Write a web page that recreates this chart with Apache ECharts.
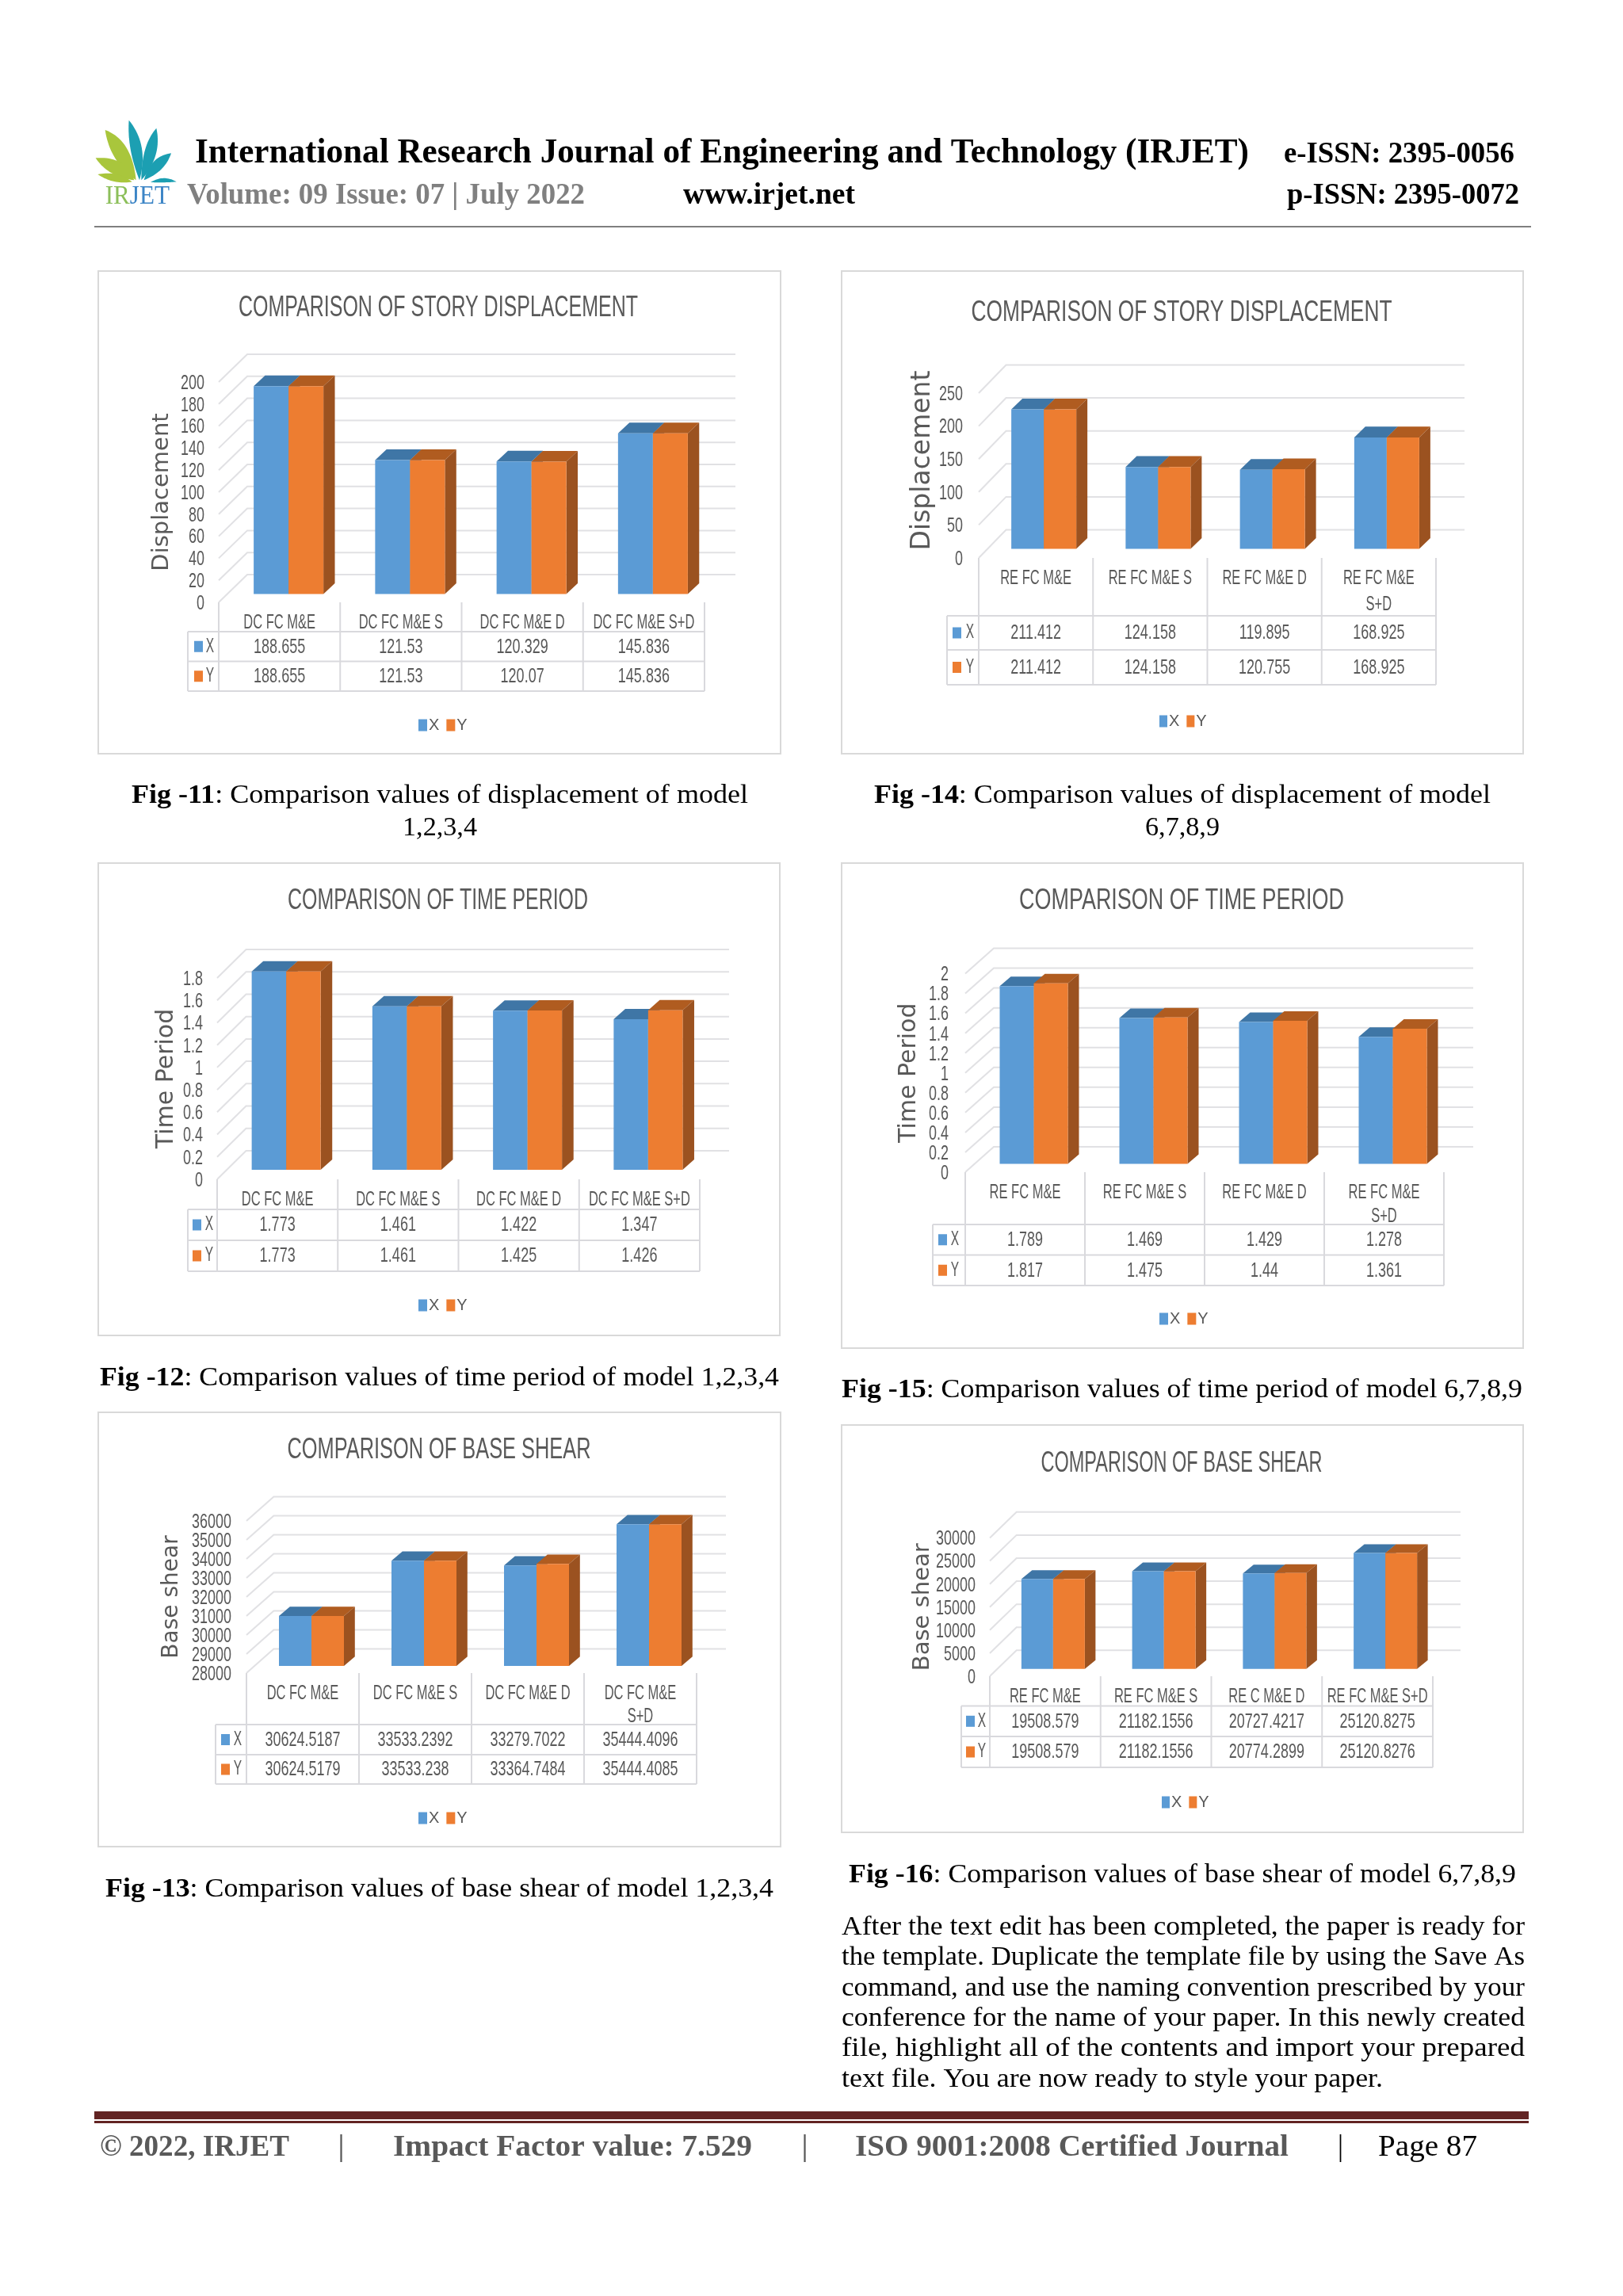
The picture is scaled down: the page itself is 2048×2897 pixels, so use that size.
<!DOCTYPE html>
<html>
<head>
<meta charset="utf-8">
<style>html,body{margin:0;padding:0;background:#fff}#c{width:2048px;height:2897px}</style>
<script src="https://cdn.jsdelivr.net/npm/echarts@6/dist/echarts.min.js"></script>
</head>
<body>
<div id="c"></div>
<script>
// ---- data ----
var catDC = ['DC FC M&E', 'DC FC M&E S', 'DC FC M&E D', 'DC FC M&E S+D'];
var catDCwrap = ['DC FC M&E', 'DC FC M&E S', 'DC FC M&E D', 'DC FC M&E\nS+D'];
var catREwrap = ['RE FC M&E', 'RE FC M&E S', 'RE FC M&E D', 'RE FC M&E\nS+D'];
var catRE16 = ['RE FC M&E', 'RE FC M&E S', 'RE C M&E D', 'RE FC M&E S+D'];

var disp11X = [188.655, 121.53, 120.329, 145.836];
var disp11Y = [188.655, 121.53, 120.07, 145.836];
var disp11Ticks = [0, 20, 40, 60, 80, 100, 120, 140, 160, 180, 200];

var disp14X = [211.412, 124.158, 119.895, 168.925];
var disp14Y = [211.412, 124.158, 120.755, 168.925];
var disp14Ticks = [0, 50, 100, 150, 200, 250];

var time12X = [1.773, 1.461, 1.422, 1.347];
var time12Y = [1.773, 1.461, 1.425, 1.426];
var time12Ticks = [0, 0.2, 0.4, 0.6, 0.8, 1, 1.2, 1.4, 1.6, 1.8];

var time15X = [1.789, 1.469, 1.429, 1.278];
var time15Y = [1.817, 1.475, 1.44, 1.361];
var time15Ticks = [0, 0.2, 0.4, 0.6, 0.8, 1, 1.2, 1.4, 1.6, 1.8, 2];

var shear13X = [30624.5187, 33533.2392, 33279.7022, 35444.4096];
var shear13Y = [30624.5179, 33533.238, 33364.7484, 35444.4085];
var shear13Ticks = [28000, 29000, 30000, 31000, 32000, 33000, 34000, 35000, 36000];

var shear16X = [19508.579, 21182.1556, 20727.4217, 25120.8275];
var shear16Y = [19508.579, 21182.1556, 20774.2899, 25120.8276];
var shear16Ticks = [0, 5000, 10000, 15000, 20000, 25000, 30000];

// ---- layout ----
var SANS = "'Liberation Sans',sans-serif";
var SERIF = "'Liberation Serif',serif";
var BLUE = '#5B9BD5', ORANGE = '#ED7D31', INK = '#595959';
var panels = [
 {title:'COMPARISON OF STORY DISPLACEMENT', name:'Displacement', cats:catDC, x:disp11X, y:disp11Y, ticks:disp11Ticks,
  box:[124,342,985,951], L:276,R:889,y0:760,yt:482,dx:36,dy:35,fx:11.5,fy:10.5,bw:44,ddx:14.4,ddy:13.6,back:928,
  tL:237,rows:[797,834.5,872],sw:[245,265],leg:[528,913,11],tc:[553,389],tw:252,nameSize:29,nameGap:57,lm:18,lh:31,nameShift:0},
 {title:'COMPARISON OF STORY DISPLACEMENT', name:'Displacement', cats:catREwrap, x:disp14X, y:disp14Y, ticks:disp14Ticks,
  box:[1062,342,1922,951], L:1235,R:1812,y0:704,yt:496,dx:34.5,dy:35.5,fx:10,fy:11.5,bw:41,ddx:14,ddy:13.6,back:1848,
  tL:1195,rows:[777,820,864],sw:[1202,1224],leg:[1463,908,10],tc:[1491,395],tw:265.5,nameSize:33,nameGap:54,lm:20,lh:33,nameShift:38},
 {title:'COMPARISON OF TIME PERIOD', name:'Time Period', cats:catDC, x:time12X, y:time12Y, ticks:time12Ticks,
  box:[124,1089,984,1685], L:274,R:883,y0:1488,yt:1234,dx:36.5,dy:36,fx:11,fy:12,bw:43.5,ddx:14.6,ddy:13,back:920,
  tL:237,rows:[1526,1565,1604],sw:[243,264],leg:[528,1645,11],tc:[552.5,1137],tw:189.5,nameSize:30,nameGap:49,lm:18,lh:31,nameShift:0},
 {title:'COMPARISON OF TIME PERIOD', name:'Time Period', cats:catREwrap, x:time15X, y:time15Y, ticks:time15Ticks,
  box:[1062,1089,1922,1701], L:1218,R:1822,y0:1479,yt:1228.5,dx:36,dy:32,fx:11,fy:10.6,bw:43,ddx:14,ddy:12,back:1859,
  tL:1177,rows:[1545,1583.5,1622],sw:[1184,1205],leg:[1463,1662,11],tc:[1491,1137],tw:205,nameSize:30,nameGap:56,lm:21,lh:30,nameShift:0},
 {title:'COMPARISON OF BASE SHEAR', name:'Base shear', cats:catDCwrap, x:shear13X, y:shear13Y, ticks:shear13Ticks,
  box:[124,1782,985,2330], L:311,R:879,y0:2111,yt:1919,dx:34.4,dy:30.6,fx:11,fy:9,bw:41,ddx:13.8,ddy:11.8,back:916,
  tL:272,rows:[2176,2214,2251],sw:[279,300],leg:[528,2292,11],tc:[554,1830],tw:191.5,nameSize:28,nameGap:80,lm:19,lh:29,nameShift:0},
 {title:'COMPARISON OF BASE SHEAR', name:'Base shear', cats:catRE16, x:shear16X, y:shear16Y, ticks:shear16Ticks,
  box:[1062,1798,1922,2312], L:1249,R:1808,y0:2115,yt:1940.5,dx:33.7,dy:32.7,fx:10,fy:9.3,bw:40,ddx:13.5,ddy:11,back:1843,
  tL:1213,rows:[2152.6,2191,2230],sw:[1219,1239],leg:[1466,2272,10],tc:[1491,1847],tw:177.5,nameSize:29,nameGap:70,lm:18,lh:30,nameShift:0}
];

// ---- helpers ----
var mctx = document.createElement('canvas').getContext('2d');
function measure(t, size, fam, bold) {
  mctx.font = (bold ? 'bold ' : '') + size + 'px ' + fam;
  return mctx.measureText(t).width;
}
// a line of text stretched to span x1..x2; parts = [[text,bold,colour],...]
function textLine(parts, x1, x2, y, size, fam) {
  var w = 0, rich = {}, s = '';
  parts.forEach(function (p, i) {
    w += measure(p[0], size, fam, p[1]);
    rich['p' + i] = {fontFamily: fam, fontSize: size, fontWeight: p[1] ? 'bold' : 'normal', fill: p[2] || '#000', color: p[2] || '#000'};
    s += '{p' + i + '|' + p[0] + '}';
  });
  return {type: 'text', x: x1, y: y, scaleX: (x2 - x1) / w, z: 5, silent: true,
    style: parts.length > 1
      ? {text: s, rich: rich, align: 'left', verticalAlign: 'middle'}
      : {text: parts[0][0], fontFamily: fam, fontSize: size, fontWeight: parts[0][1] ? 'bold' : 'normal', fill: parts[0][2] || '#000', align: 'left', verticalAlign: 'middle'}};
}
function leaf(tip, base, c1, c2, color) {
  var k = 1 / 3, pts = [], t;
  function q(a, c, b, t) { return (1 - t) * (1 - t) * a + 2 * (1 - t) * t * c + t * t * b; }
  for (t = 0; t <= 1.001; t += 0.05) pts.push([q(base[0], c1[0], tip[0], t), q(base[1], c1[1], tip[1], t)]);
  for (t = 0; t <= 1.001; t += 0.05) pts.push([q(tip[0], c2[0], base[0], t), q(tip[1], c2[1], base[1], t)]);
  pts = pts.map(function (p) { return [110 + p[0] * k, 140 + p[1] * k]; });
  return {type: 'polygon', silent: true, shape: {points: pts}, style: {fill: color}};
}
// condensed label used for tick labels, table cells and category names
function narrowText(t, x, y, align, scale, lh) {
  var st = {text: t, x: 0, y: 0, align: align, verticalAlign: lh ? 'top' : 'middle', fontFamily: SANS, fontSize: 25, fill: INK};
  if (lh) st.lineHeight = lh;
  return {type: 'text', x: x, y: y, scaleX: scale, style: st};
}

// ---- renderers ----
function wallRenderer(p) {
  return function (params, api) {
    var v = api.value(1), y = api.coord([0, v])[1], l = params.coordSys.x;
    return {type: 'group', silent: true, children: [
      {type: 'polyline', shape: {points: [[l, y], [l + p.dx, y - p.dy], [p.back, y - p.dy]]},
       style: {stroke: '#E1E1E4', lineWidth: 2, fill: null}},
      narrowText(String(v), l - p.lm, y + 2, 'right', 0.72)
    ]};
  };
}
function barRenderer(p, side, front, topC, sideC) {
  return function (params, api) {
    var i = api.value(0), v = api.value(1), mn = p.ticks[0];
    var cx = api.coord([i, v])[0] + p.fx, yTop = api.coord([i, v])[1] - p.fy, yBase = api.coord([i, mn])[1] - p.fy;
    var x1 = side < 0 ? cx - p.bw : cx, x2 = x1 + p.bw;
    return {type: 'group', silent: true, children: [
      {type: 'polygon', shape: {points: [[x1, yTop], [x1 + p.ddx, yTop - p.ddy], [x2 + p.ddx, yTop - p.ddy], [x2, yTop]]}, style: {fill: topC}},
      {type: 'polygon', shape: {points: [[x2, yTop], [x2 + p.ddx, yTop - p.ddy], [x2 + p.ddx, yBase - p.ddy], [x2, yBase]]}, style: {fill: sideC}},
      {type: 'rect', shape: {x: x1, y: yTop, width: p.bw, height: yBase - yTop}, style: {fill: front}}
    ]};
  };
}
function tableRenderer(p) {
  var lineC = '#D9D9DD';
  function ln(a, b, c, d) { return {type: 'line', shape: {x1: a, y1: b, x2: c, y2: d}, style: {stroke: lineC, lineWidth: 2}}; }
  return function (params, api) {
    var i = params.dataIndex, cx = api.coord([i, p.ticks[0]])[0], w = api.size([1, 0])[0];
    var r = p.rows, ch = [
      ln(cx + w / 2, p.y0, cx + w / 2, r[2]),
      narrowText(p.cats[i], cx, p.y0 + 26 - p.lh / 2, 'center', 0.66, p.lh),
      narrowText(String(api.value(1)), cx, (r[0] + r[1]) / 2 + 1, 'center', 0.72),
      narrowText(String(api.value(2)), cx, (r[1] + r[2]) / 2 + 1, 'center', 0.72)
    ];
    if (i === 0) {
      ch.push(ln(p.L, p.y0, p.L, r[2]));
      ch.push(ln(p.tL, r[0], p.R, r[0]), ln(p.tL, r[1], p.R, r[1]), ln(p.tL, r[2], p.R, r[2]), ln(p.tL, r[0], p.tL, r[2]));
      var c = [(r[0] + r[1]) / 2, (r[1] + r[2]) / 2];
      ch.push({type: 'rect', shape: {x: p.sw[0], y: c[0] - 7, width: 11, height: 14}, style: {fill: BLUE}});
      ch.push({type: 'rect', shape: {x: p.sw[0], y: c[1] - 7, width: 11, height: 14}, style: {fill: ORANGE}});
      ch.push(narrowText('X', p.sw[1], c[0], 'center', 0.62), narrowText('Y', p.sw[1], c[1], 'center', 0.62));
    }
    return {type: 'group', silent: true, children: ch};
  };
}

// ---- options ----
var option = {animation: false, backgroundColor: '#fff', legend: [], grid: [], xAxis: [], yAxis: [], series: [], graphic: []};
var G = option.graphic;

panels.forEach(function (p, k) {
  option.grid.push({left: p.L, top: p.yt, width: p.R - p.L, height: p.y0 - p.yt, containLabel: false});
  option.xAxis.push({type: 'category', gridIndex: k, data: p.cats, axisLine: {show: false}, axisTick: {show: false},
    axisLabel: {show: false}, splitLine: {show: false}});
  var t = p.ticks;
  option.yAxis.push({type: 'value', gridIndex: k, min: t[0], max: t[t.length - 1], interval: t[1] - t[0],
    axisLine: {show: false}, axisTick: {show: false}, splitLine: {show: false}, axisLabel: {show: false},
    name: p.name, nameLocation: 'middle', nameGap: p.nameGap,
    nameTextStyle: {fontFamily: "'DejaVu Sans',sans-serif", fontSize: p.nameSize, color: INK, padding: [0, 0, 0, p.nameShift]}});
  option.legend.push({data: ['X', 'Y'], left: p.leg[0], top: p.leg[1] - 8, orient: 'horizontal', padding: 0, selectedMode: false,
    icon: 'rect', itemWidth: p.leg[2], itemHeight: 15, itemGap: 9,
    textStyle: {fontFamily: SANS, fontSize: 20, color: INK, padding: [0, 0, 0, -3]}});
  option.series.push({name: 'gridlines', type: 'custom', xAxisIndex: k, yAxisIndex: k, z: 1, silent: true,
    data: t.map(function (v) { return [0, v]; }), encode: {x: 0, y: 1}, renderItem: wallRenderer(p)});
  option.series.push({name: 'X', type: 'custom', xAxisIndex: k, yAxisIndex: k, z: 2, silent: true, itemStyle: {color: BLUE},
    data: p.x.map(function (v, i) { return [i, v]; }), encode: {x: 0, y: 1}, renderItem: barRenderer(p, -1, BLUE, '#3F76A6', '#3F76A6')});
  option.series.push({name: 'Y', type: 'custom', xAxisIndex: k, yAxisIndex: k, z: 3, silent: true, itemStyle: {color: ORANGE},
    data: p.y.map(function (v, i) { return [i, v]; }), encode: {x: 0, y: 1}, renderItem: barRenderer(p, 1, ORANGE, '#B05C20', '#9B5220')});
  option.series.push({name: 'data table', type: 'custom', xAxisIndex: k, yAxisIndex: k, z: 4, silent: true,
    data: p.cats.map(function (c, i) { return [i, p.x[i], p.y[i]]; }), encode: {x: 0}, renderItem: tableRenderer(p)});
  G.push({type: 'rect', z: 0, silent: true, shape: {x: p.box[0], y: p.box[1], width: p.box[2] - p.box[0], height: p.box[3] - p.box[1]},
    style: {fill: '#fff', stroke: '#D9D9D9', lineWidth: 2}});
  G.push(textLine([[p.title, 0, INK]], p.tc[0] - p.tw, p.tc[0] + p.tw, p.tc[1], 36, SANS));
});

// logo
var TEAL = '#1C9FB2', LIME = '#A9C63C';
G.push(leaf([158, 35], [198, 262], [150, 140], [235, 130], TEAL));
G.push(leaf([262, 65], [205, 262], [205, 130], [285, 170], TEAL));
G.push(leaf([318, 160], [215, 262], [240, 170], [295, 230], TEAL));
G.push(leaf([338, 268], [240, 270], [290, 240], [290, 272], TEAL));
G.push(leaf([68, 72], [185, 262], [170, 110], [85, 190], LIME));
G.push(leaf([32, 178], [178, 262], [145, 170], [80, 250], LIME));
G.push(leaf([40, 240], [170, 268], [115, 225], [100, 280], LIME));
G.push(textLine([['IR', 0, '#8CBF5A'], ['JET', 0, '#3C85C6']], 132.7, 214, 248, 34, SERIF));
// header
var GREY = '#808080', DARK = '#595959';
G.push(textLine([['International Research Journal of Engineering and Technology (IRJET)', 1, '#000']], 246, 1576, 194, 44, SERIF));
G.push(textLine([['e-ISSN: 2395-0056', 1, '#000']], 1620, 1911, 195, 38, SERIF));
G.push(textLine([['Volume: 09 Issue: 07 | July 2022', 1, GREY]], 236, 738, 247, 38, SERIF));
G.push(textLine([['www.irjet.net', 1, '#000']], 862, 1079, 247, 38, SERIF));
G.push(textLine([['p-ISSN: 2395-0072', 1, '#000']], 1624, 1917, 247, 38, SERIF));
G.push({type: 'rect', silent: true, shape: {x: 119, y: 285, width: 1813, height: 2}, style: {fill: '#7F7F7F'}});
// captions
function cap(label, rest, x1, x2, y) { G.push(textLine([[label, 1, '#000'], [rest, 0, '#000']], x1, x2, y, 34, SERIF)); }
function plain(t, x1, x2, y) { G.push(textLine([[t, 0, '#000']], x1, x2, y, 34, SERIF)); }
cap('Fig -11', ': Comparison values of displacement of model', 166, 944, 1004);
plain('1,2,3,4', 508, 602, 1045);
cap('Fig -14', ': Comparison values of displacement of model', 1103, 1881, 1004);
plain('6,7,8,9', 1445, 1539, 1045);
cap('Fig -12', ': Comparison values of time period of model 1,2,3,4', 126, 983, 1739);
cap('Fig -15', ': Comparison values of time period of model 6,7,8,9', 1062, 1921, 1754);
cap('Fig -13', ': Comparison values of base shear of model 1,2,3,4', 133, 976, 2384);
cap('Fig -16', ': Comparison values of base shear of model 6,7,8,9', 1071, 1913, 2366);
// paragraph
[['After the text edit has been completed, the paper is ready for', 2432],
 ['the template. Duplicate the template file by using the Save As', 2470],
 ['command, and use the naming convention prescribed by your', 2509],
 ['conference for the name of your paper. In this newly created', 2547],
 ['file, highlight all of the contents and import your prepared', 2585]
].forEach(function (l) { plain(l[0], 1062, 1924, l[1]); });
plain('text file. You are now ready to style your paper.', 1062, 1745, 2624);
// footer
G.push({type: 'rect', silent: true, shape: {x: 119, y: 2664, width: 1810, height: 10}, style: {fill: '#622423'}});
G.push({type: 'rect', silent: true, shape: {x: 119, y: 2676, width: 1810, height: 3}, style: {fill: '#622423'}});
G.push(textLine([['\u00A9 2022, IRJET', 1, DARK]], 126, 365, 2710, 38, SERIF));
G.push(textLine([['|', 1, DARK]], 427, 434, 2710, 38, SERIF));
G.push(textLine([['Impact Factor value: 7.529', 1, DARK]], 496, 949, 2710, 38, SERIF));
G.push(textLine([['|', 1, DARK]], 1012, 1019, 2710, 38, SERIF));
G.push(textLine([['ISO 9001:2008 Certified Journal', 1, DARK]], 1079, 1626, 2710, 38, SERIF));
G.push(textLine([['|', 0, '#000']], 1688, 1695, 2710, 38, SERIF));
G.push(textLine([['Page 87', 0, '#000']], 1739, 1864, 2710, 38, SERIF));

var chart = echarts.init(document.getElementById('c'), null, {renderer: 'canvas', width: 2048, height: 2897});
chart.setOption(option);
</script>
</body>
</html>
